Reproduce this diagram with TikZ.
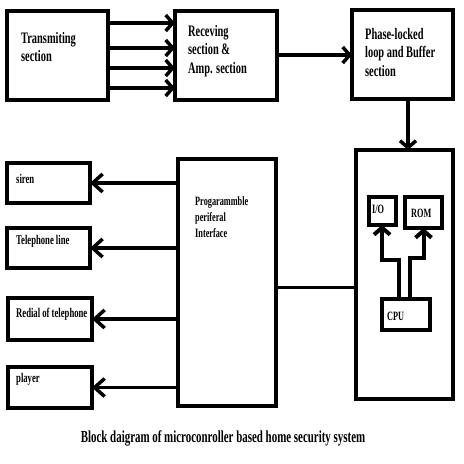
\documentclass[tikz,border=0pt]{standalone}
\usepackage{fontspec}
\setmainfont[FakeStretch=0.65]{Liberation Serif}
\usetikzlibrary{arrows.meta,calc}
\begin{document}
\begin{tikzpicture}[x=1pt,y=-1pt,
  box/.style={draw,line width=4pt,inner sep=0pt,outer sep=0pt,anchor=north west},
  lbl/.style={font=\bfseries\fontsize{16}{18.5}\selectfont,align=left,inner sep=0pt,anchor=north west},
  mid/.style={font=\bfseries\fontsize{12.7}{16}\selectfont,align=left,inner sep=0pt,anchor=north west},
  sm/.style={font=\bfseries\fontsize{13.3}{15}\selectfont,inner sep=0pt,anchor=base west},
  tiny/.style={font=\bfseries\fontsize{12.7}{14}\selectfont,inner sep=0pt,anchor=base west},
  arr/.style={line width=3.5pt,-{Straight Barb[length=7pt,width=16pt]}},
  bigarr/.style={line width=3.5pt,-{Straight Barb[length=10pt,width=18pt]}}]
\useasboundingbox (0,0) rectangle (464,464);

% top row
\node[box,minimum width=101pt,minimum height=89pt] (trans) at (7,11) {};
\node[box,minimum width=102pt,minimum height=89pt] (recv) at (175,11) {};
\node[box,minimum width=101pt,minimum height=89pt] (pll) at (352,10) {};
\node[lbl] (transt) at (21,32) {Transmiting\\section};
\node[lbl] (recvt) at (188,25) {Receving\\section \&\\Amp. section};
\node[lbl] (pllt) at (365,28) {Phase-locked\\loop and Buffer\\section};

% main blocks
\node[box,minimum width=98pt,minimum height=247pt] (ppi) at (178,159) {};
\node[box,minimum width=97pt,minimum height=249pt] (mcu) at (356,150) {};
\node[mid] (ppit) at (195,196) {Progarammble\\periferal\\Interface};

% output boxes
\node[box,minimum width=83pt,minimum height=40pt] (siren) at (7,163) {};
\node[box,minimum width=83pt,minimum height=40pt] (tel) at (7,228) {};
\node[box,minimum width=84pt,minimum height=42pt] (redial) at (8,298) {};
\node[box,minimum width=84pt,minimum height=41pt] (player) at (8,367) {};
\node[sm] (sirent) at (16,183) {siren};
\node[sm] (telt) at (16,244) {Telephone line};
\node[sm] (redialt) at (16,317) {Redial of telephone};
\node[sm] (playert) at (16,382) {player};

% inner blocks
\node[box,minimum width=27pt,minimum height=28pt] (io) at (368.5,197) {};
\node[box,minimum width=37pt,minimum height=31pt] (rom) at (405,197) {};
\node[box,line width=3.5pt,minimum width=48pt,minimum height=31pt] (cpu) at (382,299) {};
\node[tiny] (iot) at (372,213) {I/O};
\node[tiny] (romt) at (411,217) {ROM};
\node[tiny] (cput) at (387,320) {CPU};

% connectors top
\foreach \dy/\nm in {12/a,37/b,57/c,77/d}{
  \coordinate (s\nm) at ([yshift=-\dy pt]trans.north east);
  \draw[arr] (s\nm) -- (recv.west |- s\nm);
}
\coordinate (rp) at ([yshift=-44pt]recv.north east);
\draw[arr] (rp) -- (pll.west |- rp);
\coordinate (pm) at ([xshift=56pt]pll.south west);
\draw[arr] (pm) -- (mcu.north -| pm);

% ppi to outputs
\draw[bigarr] (ppi.west |- siren.east) -- (siren.east);
\draw[bigarr] (ppi.west |- tel.east) -- (tel.east);
\draw[bigarr] (ppi.west |- redial.east) -- (redial.east);
\draw[bigarr] (ppi.west |- player.east) -- (player.east);

% ppi to mcu
\coordinate (pq) at ([yshift=-4.5pt]ppi.east);
\draw[line width=3pt] (pq) -- (mcu.west |- pq);

% cpu to io/rom
\draw[arr,line width=4pt] ([xshift=-7.5pt]cpu.north) -- ++(0,-39) -| (io.south);
\draw[arr,line width=4pt] ([xshift=3.5pt]cpu.north) -- ++(0,-41) -| (rom.south);

% caption
\node[font=\bfseries\fontsize{16.8}{18}\selectfont,inner sep=0pt,anchor=base] (cap) at (223,442) {Block daigram of microconroller based home security system};
\end{tikzpicture}
\end{document}
